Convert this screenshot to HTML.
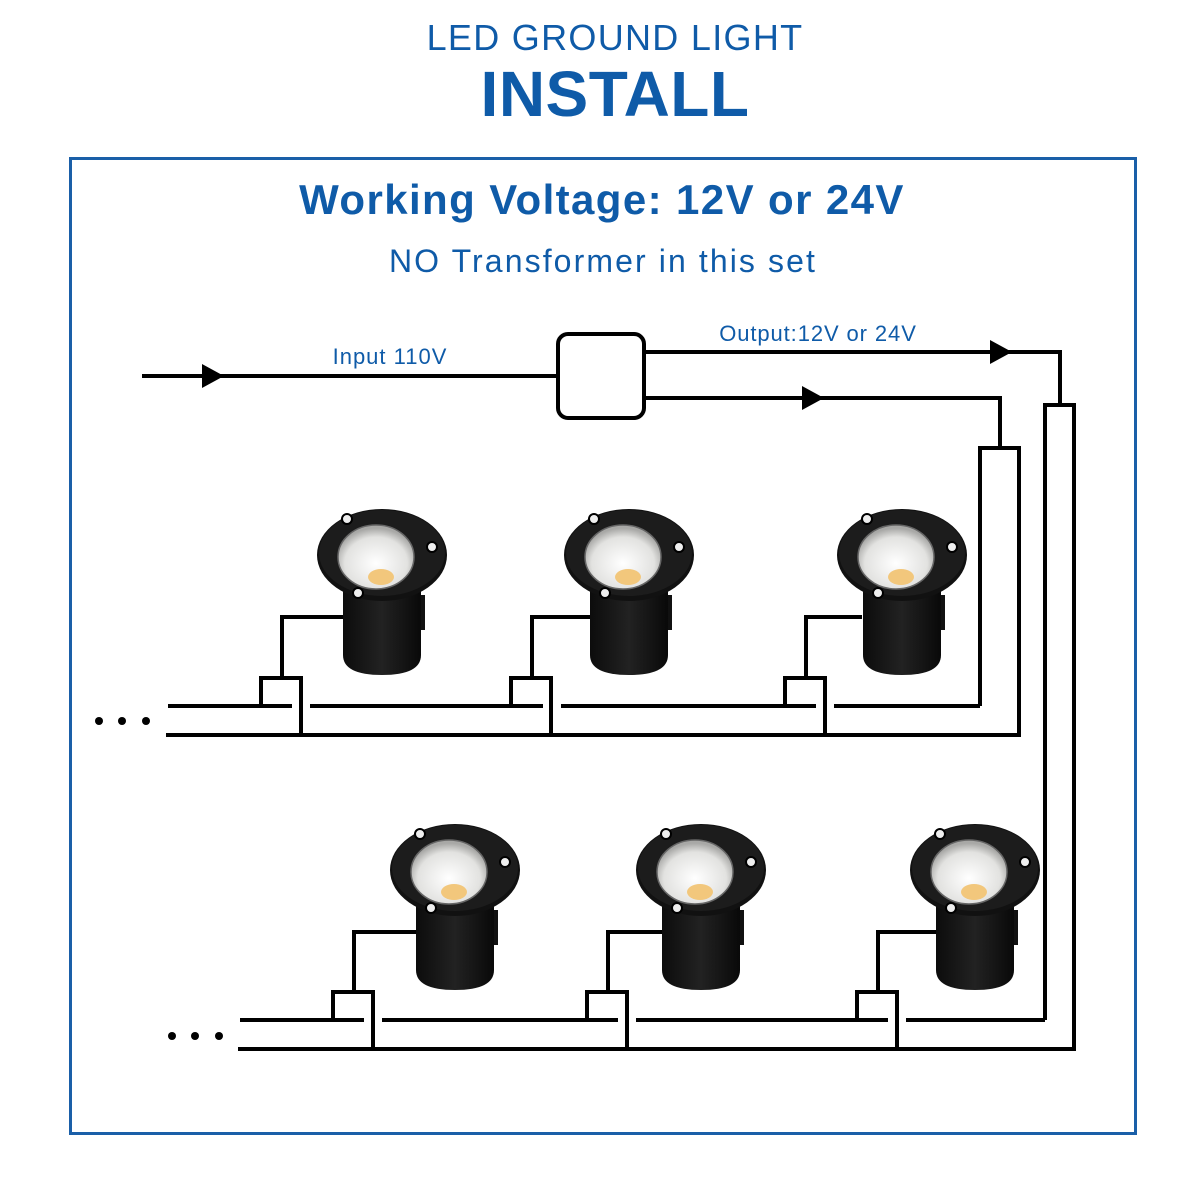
<!DOCTYPE html>
<html><head><meta charset="utf-8"><style>
body{margin:0;background:#fff;}
svg{display:block}
</style></head><body>
<svg width="1200" height="1200" viewBox="0 0 1200 1200" xmlns="http://www.w3.org/2000/svg">
<defs>
<radialGradient id="lens" cx="50%" cy="60%" r="55%">
<stop offset="0" stop-color="#ffffff"/><stop offset="0.75" stop-color="#e2e2e0"/><stop offset="1" stop-color="#a8a8a6"/>
</radialGradient>
<linearGradient id="body" x1="0" x2="1">
<stop offset="0" stop-color="#0c0c0c"/><stop offset="0.5" stop-color="#222"/><stop offset="1" stop-color="#090909"/>
</linearGradient>
<g id="lamp">
<path d="M-39 30 L-39 100 Q-39 120 0 120 Q39 120 39 100 L39 30 Z" fill="url(#body)"/>
<rect x="39" y="40" width="4" height="35" fill="#111"/>
<ellipse cx="0" cy="0" rx="65" ry="46" fill="#111"/>
<ellipse cx="0" cy="-2" rx="63" ry="43" fill="#1c1c1c"/>
<ellipse cx="-6" cy="2" rx="38" ry="32" fill="url(#lens)" stroke="#666" stroke-width="1.5"/>
<ellipse cx="-1" cy="22" rx="13" ry="8" fill="#f2c77c"/>
<circle cx="-35" cy="-36" r="5" fill="#eee" stroke="#000" stroke-width="2"/>
<circle cx="50" cy="-8" r="5" fill="#eee" stroke="#000" stroke-width="2"/>
<circle cx="-24" cy="38" r="5" fill="#eee" stroke="#000" stroke-width="2"/>
</g>
</defs>
<g font-family="Liberation Sans, sans-serif" fill="#0f5ba8" text-anchor="middle">
<text x="615" y="50" font-size="36" letter-spacing="1.3">LED GROUND LIGHT</text>
<text x="615" y="116" font-size="64" font-weight="bold" letter-spacing="0.5">INSTALL</text>
<text x="602" y="214" font-size="42" font-weight="bold" letter-spacing="1.4">Working Voltage: 12V or 24V</text>
<text x="603" y="272" font-size="32" letter-spacing="2.1">NO Transformer in this set</text>
<text x="390" y="364" font-size="22" letter-spacing="1">Input 110V</text>
<text x="818" y="341" font-size="22" letter-spacing="0.9">Output:12V or 24V</text>
</g>
<rect x="70.5" y="158.5" width="1065" height="975" fill="none" stroke="#1a5fa8" stroke-width="3"/>
<g stroke="#000" stroke-width="4" fill="none">
<line x1="142" y1="376" x2="558" y2="376"/>
<rect x="558" y="334" width="86" height="84" rx="10"/>
<polyline points="644,352 1060,352 1060,405"/>
<polyline points="644,398 1000,398 1000,448"/>
<polyline points="980,706 980,448 1019,448 1019,735 166,735"/>
<polyline points="1045,1020 1045,405 1074,405 1074,1049 238,1049"/>
<line x1="168" y1="706" x2="292" y2="706"/>
<line x1="310" y1="706" x2="543" y2="706"/>
<line x1="561" y1="706" x2="816" y2="706"/>
<line x1="834" y1="706" x2="980" y2="706"/>
<line x1="240" y1="1020" x2="364" y2="1020"/>
<line x1="382" y1="1020" x2="618" y2="1020"/>
<line x1="636" y1="1020" x2="888" y2="1020"/>
<line x1="906" y1="1020" x2="1045" y2="1020"/>
<polyline points="261,706 261,678 301,678 301,735"/>
<polyline points="282,678 282,617 345,617"/>
<polyline points="511,706 511,678 551,678 551,735"/>
<polyline points="532,678 532,617 590,617"/>
<polyline points="785,706 785,678 825,678 825,735"/>
<polyline points="806,678 806,617 862,617"/>
<polyline points="333,1020 333,992 373,992 373,1049"/>
<polyline points="354,992 354,932 418,932"/>
<polyline points="587,1020 587,992 627,992 627,1049"/>
<polyline points="608,992 608,932 664,932"/>
<polyline points="857,1020 857,992 897,992 897,1049"/>
<polyline points="878,992 878,932 938,932"/>
</g>
<g fill="#000">
<polygon points="202,364 224,376 202,388"/>
<polygon points="990,340 1012,352 990,364"/>
<polygon points="802,386 824,398 802,410"/>
<circle cx="99" cy="721" r="4"/><circle cx="122" cy="721" r="4"/><circle cx="146" cy="721" r="4"/>
<circle cx="172" cy="1036" r="4"/><circle cx="195" cy="1036" r="4"/><circle cx="219" cy="1036" r="4"/>
</g>
<use href="#lamp" x="382" y="555"/>
<use href="#lamp" x="629" y="555"/>
<use href="#lamp" x="902" y="555"/>
<use href="#lamp" x="455" y="870"/>
<use href="#lamp" x="701" y="870"/>
<use href="#lamp" x="975" y="870"/>
</svg>
</body></html>
